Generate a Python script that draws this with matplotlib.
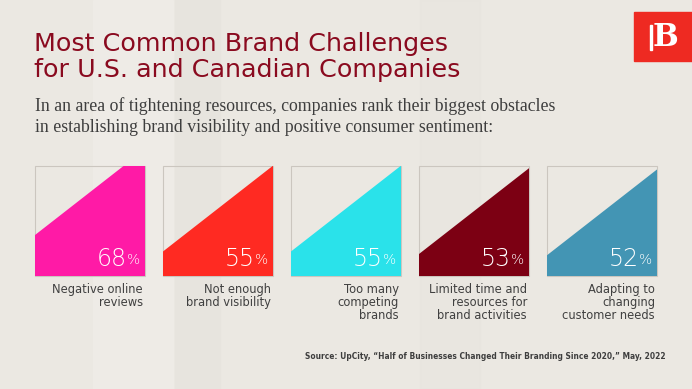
import numpy as np
import matplotlib.pyplot as plt
from matplotlib.patches import Polygon, Rectangle

# data
labels = [["Negative online", "reviews"],
          ["Not enough", "brand visibility"],
          ["Too many", "competing", "brands"],
          ["Limited time and", "resources for", "brand activities"],
          ["Adapting to", "changing", "customer needs"]]
values = [68, 55, 55, 53, 52]
colors = ["#ff1aa6", "#ff2a22", "#2ae2ea", "#7c0013", "#4395b4"]

title = ["Most Common Brand Challenges", "for U.S. and Canadian Companies"]
subtitle = ["In an area of tightening resources, companies rank their biggest obstacles",
            "in establishing brand visibility and positive consumer sentiment:"]
source = "Source: UpCity, \u201cHalf of Businesses Changed Their Branding Since 2020,\u201d May, 2022"

W, H = 692, 389
fig = plt.figure(figsize=(W / 100, H / 100), dpi=100)
fig.patch.set_facecolor("#ebe8e2")
ax = fig.add_axes([0, 0, 1, 1])
ax.set_xlim(0, W)
ax.set_ylim(H, 0)
ax.axis("off")

# faint background letterforms
ax.add_patch(Rectangle((93, 0), 80, H, color="#eeebe6", zorder=0))
ax.add_patch(Rectangle((175, 0), 45, H, color="#e7e4de", zorder=0))
ax.add_patch(Rectangle((420, 0), 60, H, color="#e8e5df", zorder=0, alpha=0.6))

for k, line in enumerate(title):
    ax.text(34, 51 + 26 * k, line, fontsize=18.3, color="#8a0a1f", ha="left",
            va="baseline", family="DejaVu Sans", weight="medium")
for k, line in enumerate(subtitle):
    ax.text(35, 111 + 21 * k, line, fontsize=12.8, color="#3e3e3e", ha="left",
            va="baseline", family="Liberation Serif")

size = 110
top = 166
slope = 0.78
for i, (lab, v, c) in enumerate(zip(labels, values, colors)):
    x0 = 35 + i * 128
    ax.add_patch(Rectangle((x0, top), size, size, fill=False, ec="#cbc6bf", lw=0.8, zorder=2))
    h = 0.2 + (v - 53) * 0.0115       # left-edge height of the fill (fraction)
    t = min(1.0, (1 - h) / slope)     # where the slanted edge meets the top
    pts = [(0, 0), (0, h), (t, min(1.0, h + slope * t)), (1, 1), (1, 0)]
    poly = [(x0 + px * size, top + size - py * size) for px, py in pts]
    ax.add_patch(Polygon(poly, closed=True, color=c, lw=0, zorder=3))
    ax.text(x0 + 92, 266, str(v), fontsize=17, color="white", ha="right", va="baseline",
            family="DejaVu Sans", weight="light", zorder=4)
    ax.text(x0 + 92, 264, "%", fontsize=10, color="white", ha="left", va="baseline",
            family="DejaVu Sans", weight="light", zorder=4)
    for k, line in enumerate(lab):
        ax.text(x0 + size - 2, 293 + 13 * k, line, fontsize=8.3, color="#404040",
                ha="right", va="baseline", family="DejaVu Sans")

ax.text(666, 359, source, fontsize=5.45, color="#3e3e3e", ha="right", va="baseline",
        family="DejaVu Sans", weight="bold")

# logo
ax.add_patch(Rectangle((634, 12), 60, 49, color="#ee2a22", zorder=5))
ax.text(665, 37, "B", fontsize=22, color="white", ha="center", va="center",
        family="DejaVu Serif", weight="bold", zorder=6)
ax.add_patch(Rectangle((650, 25), 1.6, 25, color="white", zorder=6))

fig.savefig("out.png", dpi=100, facecolor=fig.get_facecolor())
